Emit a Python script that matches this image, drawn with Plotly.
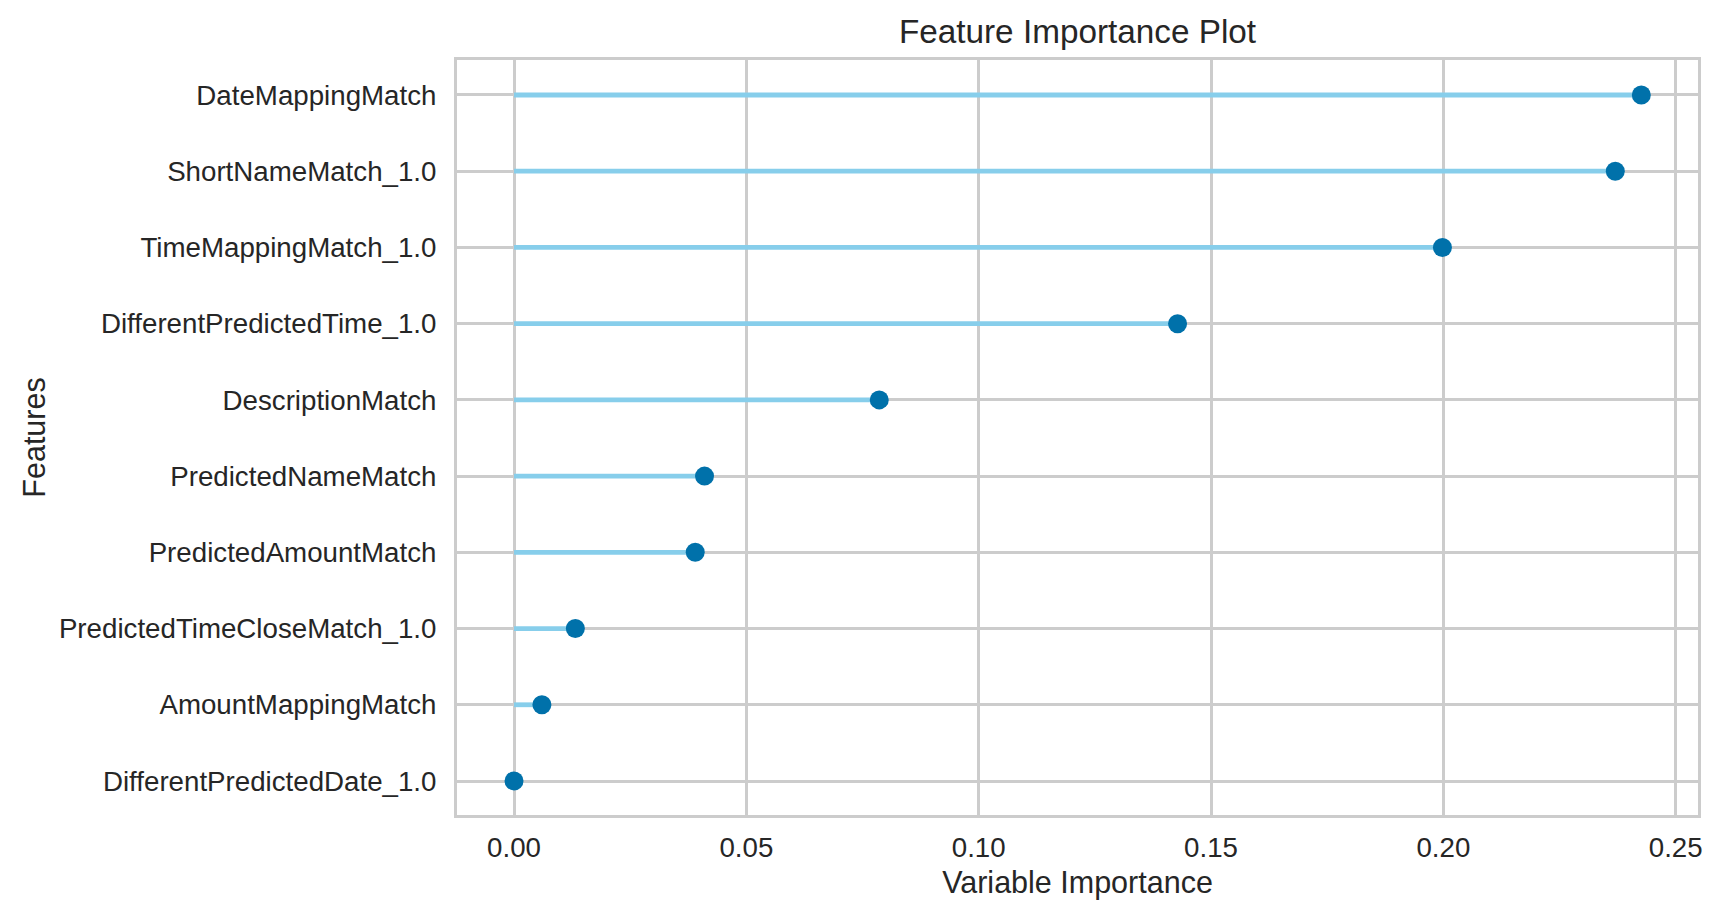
import plotly.graph_objects as go

# feature importance values, largest first
features = [
    "DateMappingMatch",
    "ShortNameMatch_1.0",
    "TimeMappingMatch_1.0",
    "DifferentPredictedTime_1.0",
    "DescriptionMatch",
    "PredictedNameMatch",
    "PredictedAmountMatch",
    "PredictedTimeCloseMatch_1.0",
    "AmountMappingMatch",
    "DifferentPredictedDate_1.0",
]
importance = [0.2426, 0.2370, 0.1998, 0.1428, 0.0786, 0.0410, 0.0390, 0.0132, 0.0060, 0.0]

x_ticks = [0.0, 0.05, 0.10, 0.15, 0.20, 0.25]
x_tick_text = ["0.00", "0.05", "0.10", "0.15", "0.20", "0.25"]

FONT = "Liberation Sans, Arial, sans-serif"
TEXT = "#262626"
GRID = "#cccccc"

# stems from 0 to the value, one segment per feature
stem_x, stem_y = [], []
for f, v in zip(features, importance):
    stem_x += [0, v, None]
    stem_y += [f, f, None]

fig = go.Figure()
fig.add_trace(go.Scatter(
    x=stem_x, y=stem_y, mode="lines",
    line=dict(color="#87CEEB", width=4.8),
    hoverinfo="skip", showlegend=False,
))
fig.add_trace(go.Scatter(
    x=importance, y=features, mode="markers",
    marker=dict(color="#0071AA", size=19),
    showlegend=False,
))

# page body has an 8px margin, so the figure is 8px smaller each way
fig.update_layout(
    width=1714, height=912,
    margin=dict(l=449, r=24, t=52, b=105),
    plot_bgcolor="white", paper_bgcolor="white",
    font=dict(family=FONT, color=TEXT, size=27.7),
    title=dict(
        text="Feature Importance Plot",
        font=dict(size=33.3, color=TEXT, family=FONT),
        x=0.5, xref="paper", xanchor="center",
        y=1 - 23 / 912, yref="container", yanchor="middle",
    ),
)

fig.update_xaxes(
    range=[-0.01227, 0.2548],
    tickvals=x_ticks, ticktext=x_tick_text,
    tickfont=dict(size=27.7),
    showgrid=True, gridcolor=GRID, gridwidth=2.7,
    zeroline=False,
    showline=True, linecolor=GRID, linewidth=3, mirror=True,
    ticks="", ticklabelstandoff=6,
    title=dict(text="Variable Importance", font=dict(size=30.5), standoff=10),
)
fig.update_yaxes(
    type="category",
    categoryorder="array", categoryarray=features[::-1],
    range=[-0.446, 9.459],
    tickfont=dict(size=27.7),
    showgrid=True, gridcolor=GRID, gridwidth=2.7,
    zeroline=False,
    showline=True, linecolor=GRID, linewidth=3, mirror=True,
    ticks="", ticklabelstandoff=12,
    title=dict(text="Features", font=dict(size=30.5), standoff=5),
)

fig.write_html("out.html")
